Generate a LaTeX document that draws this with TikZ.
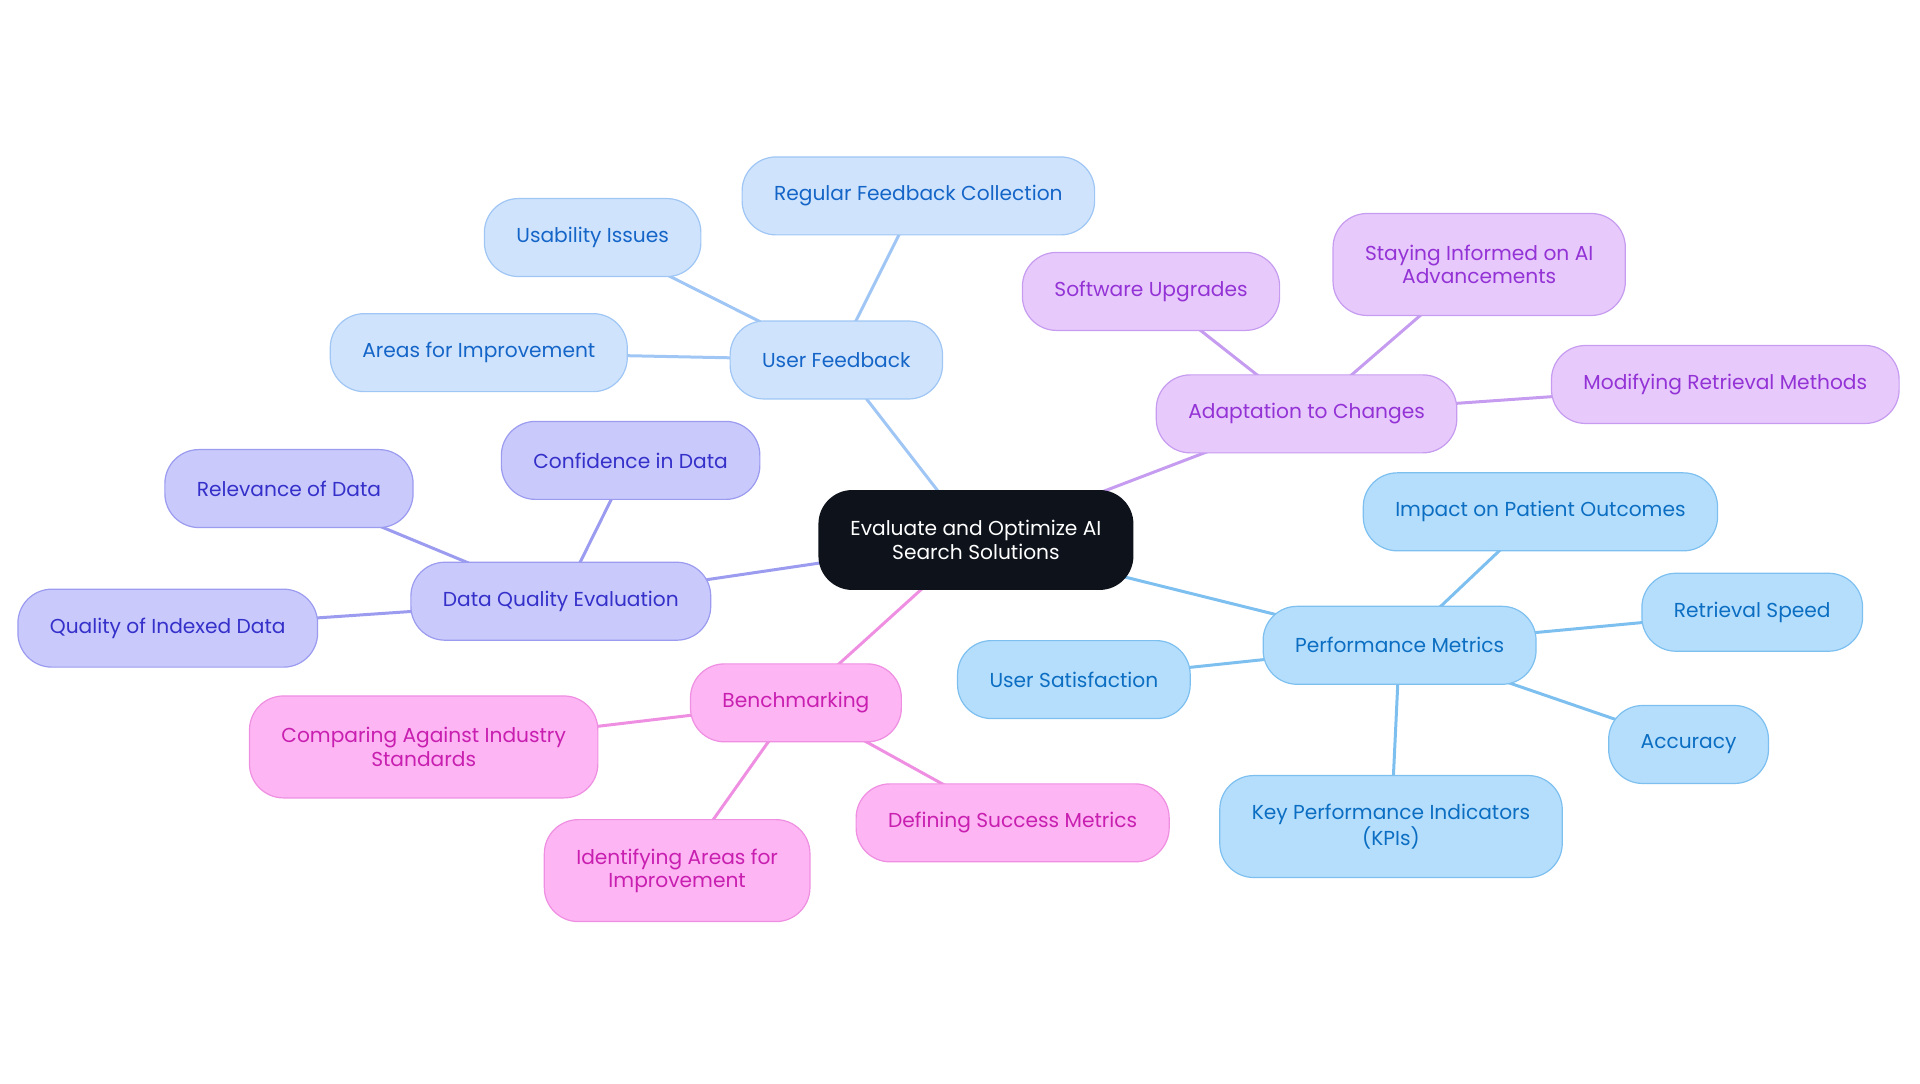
\documentclass[tikz,border=0pt]{standalone}
\usepackage{fontspec}
\setmainfont{Poppins}
\usepackage{tikz}
\usetikzlibrary{backgrounds}

\definecolor{rootfill}{HTML}{0D121B}
\definecolor{fbfill}{HTML}{CFE4FC}\definecolor{fbline}{HTML}{9FC6F4}\definecolor{fbtext}{HTML}{1565C8}
\definecolor{adfill}{HTML}{E8C9FB}\definecolor{adline}{HTML}{C69CF0}\definecolor{adtext}{HTML}{9333D6}
\definecolor{dqfill}{HTML}{C9C9FC}\definecolor{dqline}{HTML}{9B9BF0}\definecolor{dqtext}{HTML}{3430C9}
\definecolor{bmfill}{HTML}{FDB5F4}\definecolor{bmline}{HTML}{EF8FE2}\definecolor{bmtext}{HTML}{C81FB0}
\definecolor{pmfill}{HTML}{B5DEFC}\definecolor{pmline}{HTML}{7DC0F0}\definecolor{pmtext}{HTML}{0B6EC2}

\begin{document}
\begin{tikzpicture}[x=0.6125pt,y=-0.6125pt,
    topic/.style = {rounded corners=17pt, minimum height=39pt, inner xsep=16pt,
                    line width=0.6pt, align=center, font=\fontsize{10.1}{11.7}\selectfont},
    root/.style = {topic, fill=rootfill, text=white, minimum height=50pt},
    fb/.style = {topic, fill=fbfill, draw=fbline, text=fbtext},
    ad/.style = {topic, fill=adfill, draw=adline, text=adtext},
    dq/.style = {topic, fill=dqfill, draw=dqline, text=dqtext},
    bm/.style = {topic, fill=bmfill, draw=bmline, text=bmtext},
    pm/.style = {topic, fill=pmfill, draw=pmline, text=pmtext},
    tall/.style = {minimum height=51pt},
    link/.style = {line width=1.5pt}]
\useasboundingbox (0,0) rectangle (1568,884.5);

\node[root] (root) at (797,441) {Evaluate and Optimize AI\\Search Solutions};

\node[fb] (feedback) at (683,294) {User Feedback};
\node[fb] (collect) at (750,160) {Regular Feedback Collection};
\node[fb] (usability) at (484,194) {Usability Issues};
\node[fb] (areas) at (391,288) {Areas for Improvement};

\node[ad] (adapt) at (1067,338) {Adaptation to Changes};
\node[ad] (upgrades) at (940,238) {Software Upgrades};
\node[ad,tall] (informed) at (1208,216) {Staying Informed on AI\\Advancements};
\node[ad] (retrieval) at (1409,314) {Modifying Retrieval Methods};

\node[dq] (quality) at (458,491) {Data Quality Evaluation};
\node[dq] (confidence) at (515,376) {Confidence in Data};
\node[dq] (relevance) at (236,399) {Relevance of Data};
\node[dq] (indexed) at (137,513) {Quality of Indexed Data};

\node[bm] (bench) at (650,574) {Benchmarking};
\node[bm,tall] (industry) at (346,610) {Comparing Against Industry\\Standards};
\node[bm,tall] (identify) at (553,711) {Identifying Areas for\\Improvement};
\node[bm] (success) at (827,672) {Defining Success Metrics};

\node[pm] (perf) at (1143,527) {Performance Metrics};
\node[pm] (patient) at (1258,418) {Impact on Patient Outcomes};
\node[pm] (speed) at (1431,500) {Retrieval Speed};
\node[pm] (satisfaction) at (877,555) {User Satisfaction};
\node[pm] (accuracy) at (1379,608) {Accuracy};
\node[pm,tall] (kpi) at (1136,675) {Key Performance Indicators\\(KPIs)};

\begin{scope}[on background layer]
\path[link] (root.center) edge[fbline] (feedback.center)
    (feedback.center) edge[fbline] (collect.center)
    (feedback.center) edge[fbline] (usability.center)
    (feedback.center) edge[fbline] (areas.center)
    (root.center) edge[adline] (adapt.center)
    (adapt.center) edge[adline] (upgrades.center)
    (adapt.center) edge[adline] (informed.center)
    (adapt.center) edge[adline] (retrieval.center)
    (root.center) edge[dqline] (quality.center)
    (quality.center) edge[dqline] (confidence.center)
    (quality.center) edge[dqline] (relevance.center)
    (quality.center) edge[dqline] (indexed.center)
    (root.center) edge[bmline] (bench.center)
    (bench.center) edge[bmline] (industry.center)
    (bench.center) edge[bmline] (identify.center)
    (bench.center) edge[bmline] (success.center)
    (root.center) edge[pmline] (perf.center)
    (perf.center) edge[pmline] (patient.center)
    (perf.center) edge[pmline] (speed.center)
    (perf.center) edge[pmline] (satisfaction.center)
    (perf.center) edge[pmline] (accuracy.center)
    (perf.center) edge[pmline] (kpi.center);
\end{scope}
\end{tikzpicture}
\end{document}
